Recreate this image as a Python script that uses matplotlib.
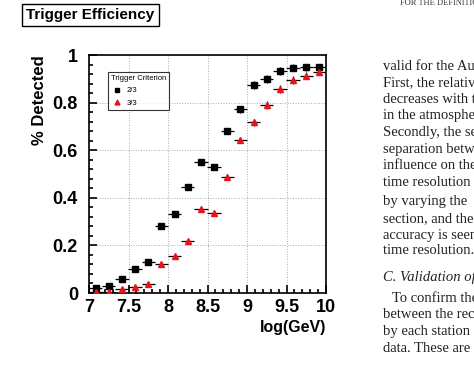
import numpy as np
import matplotlib.pyplot as plt
from matplotlib.ticker import MultipleLocator
from matplotlib.lines import Line2D

# bin centres in log(GeV), bins of width 1/6
log_e = [7.083, 7.25, 7.417, 7.583, 7.75, 7.917, 8.083, 8.25, 8.417,
         8.583, 8.75, 8.917, 9.083, 9.25, 9.417, 9.583, 9.75, 9.917]
eff_23 = [0.020, 0.030, 0.058, 0.100, 0.130, 0.280, 0.333, 0.447, 0.549,
          0.528, 0.682, 0.772, 0.873, 0.898, 0.933, 0.947, 0.948, 0.950]
eff_33 = [0.004, 0.004, 0.017, 0.024, 0.037, 0.122, 0.157, 0.217, 0.352,
          0.335, 0.489, 0.643, 0.717, 0.789, 0.858, 0.895, 0.913, 0.927]
x_err = 1 / 12
y_err_23 = [0.006, 0.006, 0.008, 0.008, 0.008, 0.010, 0.010, 0.010, 0.010,
            0.010, 0.012, 0.014, 0.016, 0.016, 0.016, 0.016, 0.014, 0.012]
y_err_33 = [0.004, 0.004, 0.006, 0.006, 0.006, 0.008, 0.008, 0.010, 0.010,
            0.010, 0.012, 0.014, 0.016, 0.016, 0.016, 0.016, 0.014, 0.012]
legend_labels = ["2/3", "3/3"]

# text of the paper column next to the figure
body_lines = ["valid for the Auger", "First, the relative", "decreases with the",
              "in the atmosphere", "Secondly, the second", "separation between",
              "influence on the", "time resolution of", "by varying the",
              "section, and the", "accuracy is seen", "time resolution."]
body_y = [66, 83, 99.5, 116, 132.5, 149, 165.5, 182, 202, 218.5, 235, 251]
tail_lines = ["between the recorded", "by each station", "data. These are"]
tail_y = [315, 332, 348]

red = '#e8141c'
plt.rcParams['font.family'] = ['Liberation Sans', 'DejaVu Sans']

fig = plt.figure(figsize=(4.74, 3.66), dpi=100)
ax = fig.add_axes([89 / 474, 1 - 293 / 366, 237 / 474, 238 / 366])

ax.errorbar(log_e, eff_23, xerr=x_err, yerr=y_err_23, fmt='s', color='black',
            ms=4.5, elinewidth=0.9, capsize=0, zorder=3)
ax.errorbar(log_e, eff_33, xerr=x_err, yerr=y_err_33, fmt='^', color=red,
            mfc=red, mec=red, ecolor='black', ms=4.5,
            elinewidth=0.9, capsize=0, zorder=3)

ax.set_xlim(7, 10)
ax.set_ylim(0, 1)
ax.xaxis.set_minor_locator(MultipleLocator(0.1))
ax.yaxis.set_minor_locator(MultipleLocator(0.04))
ax.set_xticks([7, 7.5, 8, 8.5, 9, 9.5, 10])
ax.set_xticklabels(["7", "7.5", "8", "8.5", "9", "9.5", "10"])
ax.set_yticks([0, 0.2, 0.4, 0.6, 0.8, 1])
ax.set_yticklabels(["0", "0.2", "0.4", "0.6", "0.8", "1"])
ax.tick_params(which='both', direction='in', top=False, right=False,
               labelsize=13, width=1.2)
ax.tick_params(which='major', length=6)
ax.tick_params(which='minor', length=3)
ax.tick_params(axis='x', which='major', pad=4)
ax.tick_params(axis='y', which='major', pad=8)
for lab in ax.get_xticklabels() + ax.get_yticklabels():
    lab.set_fontweight('bold')
for s in ax.spines.values():
    s.set_linewidth(1.2)
ax.grid(True, which='major', linestyle=':', color='#aaaaaa', linewidth=0.7)

ax.set_xlabel("log(GeV)", fontsize=11.5, fontweight='bold', loc='right', labelpad=3)
ax.set_ylabel("% Detected", fontsize=12, fontweight='bold', loc='top', labelpad=4)

handles = [Line2D([], [], marker='s', ls='none', color='black', ms=3.5),
           Line2D([], [], marker='^', ls='none', color=red, ms=3.5)]
leg = ax.legend(handles, legend_labels, title="Trigger Criterion",
                loc='upper left', bbox_to_anchor=(0.08, 0.929), fontsize=5.5,
                title_fontsize=5.5, frameon=True, fancybox=False,
                edgecolor='black', handletextpad=0.4, handlelength=1.6,
                borderpad=0.4, labelspacing=0.65, borderaxespad=0)
leg.get_frame().set_linewidth(0.8)
leg._legend_box.align = "left"

fig.text(26 / 474, 1 - 15 / 366, "Trigger Efficiency", fontsize=11,
         fontweight='bold', va='center', ha='left',
         bbox=dict(boxstyle='square,pad=0.28', fc='white', ec='black', lw=1))

# the paper column on the right, cut off by the page edge
serif = ['Liberation Serif', 'DejaVu Serif']
fig.text(400 / 474, 1 - 3 / 366, "FOR THE DEFINITION", fontsize=6,
         family=serif, va='center', ha='left', color='#333333')
for line, y in zip(body_lines, body_y):
    fig.text(383 / 474, 1 - y / 366, line, fontsize=10.5, family=serif,
             va='center', ha='left', color='#222222')
fig.text(383 / 474, 1 - 277 / 366, "C. Validation of", fontsize=10.5,
         family=serif, style='italic', va='center', ha='left', color='#222222')
fig.text(392 / 474, 1 - 298 / 366, "To confirm the", fontsize=10.5,
         family=serif, va='center', ha='left', color='#222222')
for line, y in zip(tail_lines, tail_y):
    fig.text(383 / 474, 1 - y / 366, line, fontsize=10.5, family=serif,
             va='center', ha='left', color='#222222')

fig.savefig("out.png", dpi=100)
